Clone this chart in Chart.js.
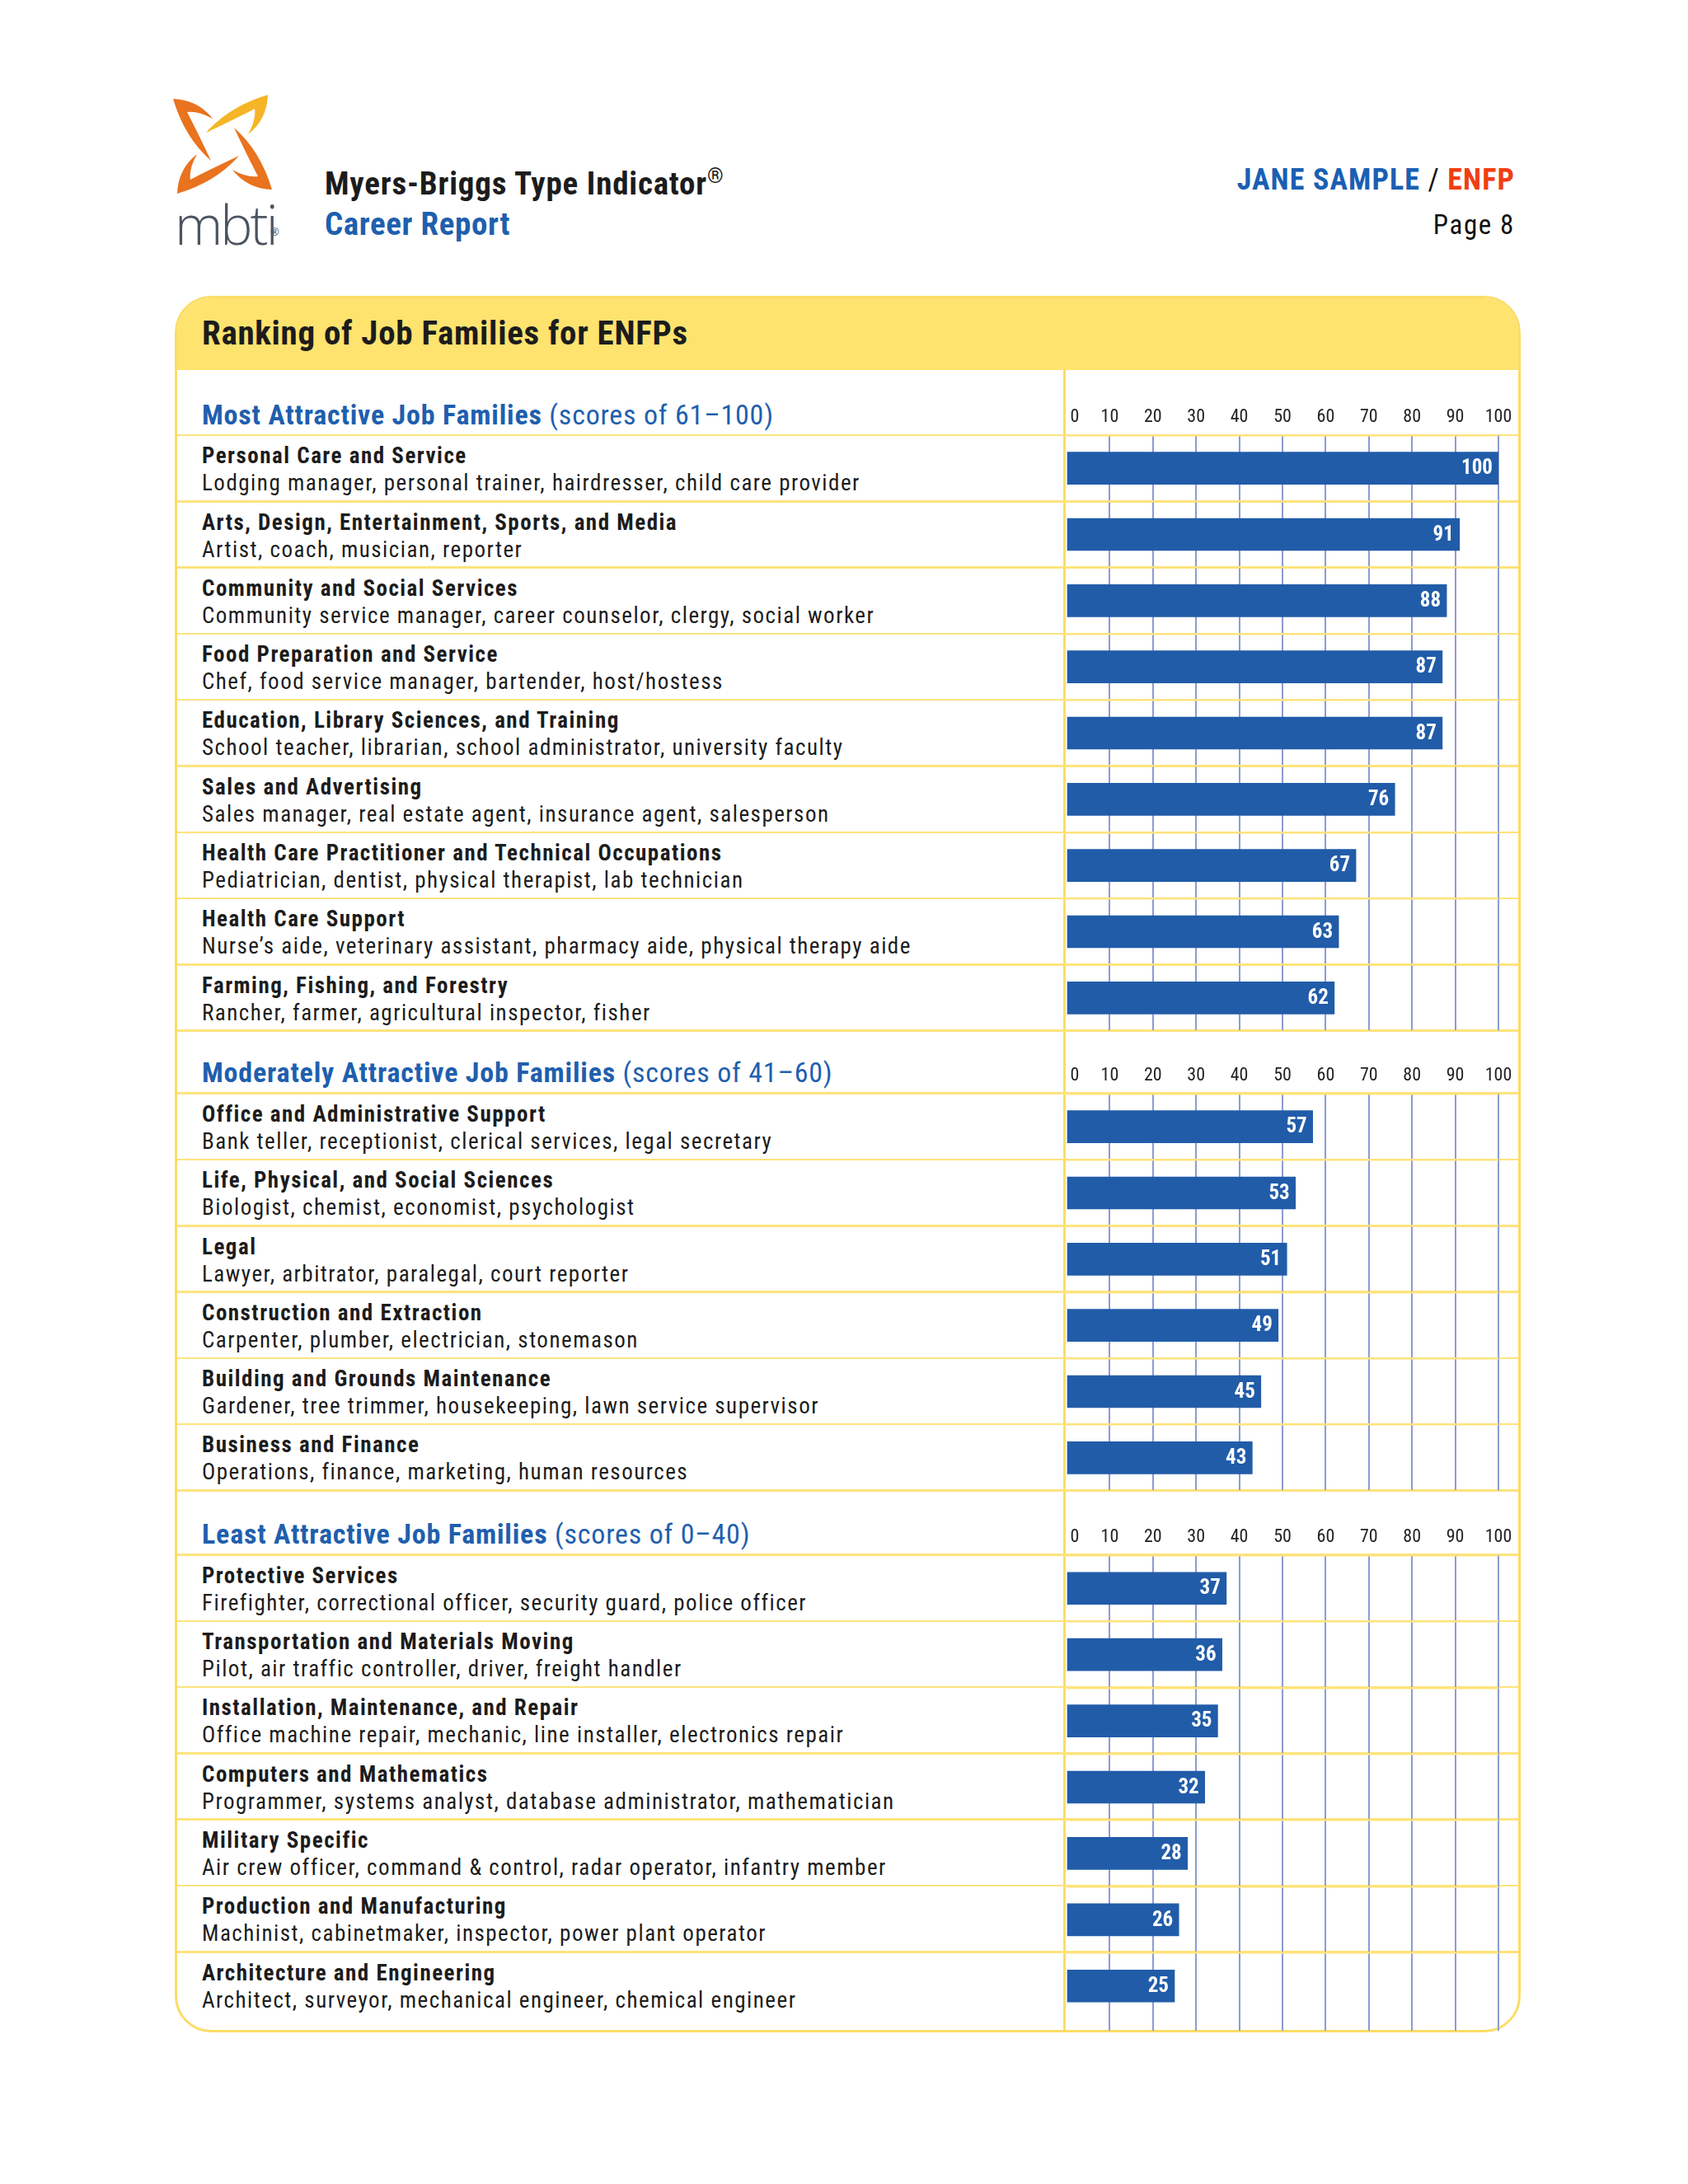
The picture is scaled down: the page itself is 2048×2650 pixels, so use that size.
<!DOCTYPE html>
<html><head><meta charset="utf-8">
<script src="https://cdn.jsdelivr.net/npm/chart.js@4/dist/chart.umd.min.js"></script>
<style>
html,body{margin:0;padding:0;background:#fff;}
#page{position:relative;width:2048px;height:2650px;overflow:hidden;background:#fff;}
.t{position:absolute;white-space:nowrap;line-height:1;}
canvas{position:absolute;}
</style></head>
<body><div id="page"></div>
<script>
// ---------------- DATA ----------------
const sectionTitles = ["Most Attractive Job Families", "Moderately Attractive Job Families", "Least Attractive Job Families"];
const sectionRanges = ["(scores of 61\u2013100)", "(scores of 41\u201360)", "(scores of 0\u201340)"];

const families1 = ["Personal Care and Service", "Arts, Design, Entertainment, Sports, and Media", "Community and Social Services", "Food Preparation and Service", "Education, Library Sciences, and Training", "Sales and Advertising", "Health Care Practitioner and Technical Occupations", "Health Care Support", "Farming, Fishing, and Forestry"];
const examples1 = ["Lodging manager, personal trainer, hairdresser, child care provider", "Artist, coach, musician, reporter", "Community service manager, career counselor, clergy, social worker", "Chef, food service manager, bartender, host/hostess", "School teacher, librarian, school administrator, university faculty", "Sales manager, real estate agent, insurance agent, salesperson", "Pediatrician, dentist, physical therapist, lab technician", "Nurse\u2019s aide, veterinary assistant, pharmacy aide, physical therapy aide", "Rancher, farmer, agricultural inspector, fisher"];
const scores1 = [100, 91, 88, 87, 87, 76, 67, 63, 62];

const families2 = ["Office and Administrative Support", "Life, Physical, and Social Sciences", "Legal", "Construction and Extraction", "Building and Grounds Maintenance", "Business and Finance"];
const examples2 = ["Bank teller, receptionist, clerical services, legal secretary", "Biologist, chemist, economist, psychologist", "Lawyer, arbitrator, paralegal, court reporter", "Carpenter, plumber, electrician, stonemason", "Gardener, tree trimmer, housekeeping, lawn service supervisor", "Operations, finance, marketing, human resources"];
const scores2 = [57, 53, 51, 49, 45, 43];

const families3 = ["Protective Services", "Transportation and Materials Moving", "Installation, Maintenance, and Repair", "Computers and Mathematics", "Military Specific", "Production and Manufacturing", "Architecture and Engineering"];
const examples3 = ["Firefighter, correctional officer, security guard, police officer", "Pilot, air traffic controller, driver, freight handler", "Office machine repair, mechanic, line installer, electronics repair", "Programmer, systems analyst, database administrator, mathematician", "Air crew officer, command & control, radar operator, infantry member", "Machinist, cabinetmaker, inspector, power plant operator", "Architect, surveyor, mechanical engineer, chemical engineer"];
const scores3 = [37, 36, 35, 32, 28, 26, 25];

const axisMin = 0, axisMax = 100, axisStep = 10;

// ---------------- STYLE / LAYOUT ----------------
const FONT = '"Roboto Condensed", "Liberation Sans Narrow", "DejaVu Sans Condensed", sans-serif';
const BLUE_TXT = '#1f5fae';
const BAR = '#215ca9';
const GRID = '#8d9bd2';
const YEL_LINE = '#fde37c';
const YEL_BORDER = '#fbdd66';
const YEL_BAND = '#fee36f';
const INK = '#1c1c1c';

const page = document.getElementById('page');
function el(tag, css, parent) { const e = document.createElement(tag); Object.assign(e.style, css); (parent || page).appendChild(e); return e; }
function txt(s, x, baseline, size, weight, color, align, ls) {
  const d = el('div', { font: `${weight} ${size}px ${FONT}`, color: color, top: (baseline - 0.86 * size) + 'px', letterSpacing: (ls || 0) + 'px' });
  d.className = 't'; d.textContent = s;
  if (align === 'right') d.style.right = (2048 - x) + 'px'; else d.style.left = x + 'px';
  return d;
}

// ----- logo -----
const svgNS = 'http://www.w3.org/2000/svg';
const svg = document.createElementNS(svgNS, 'svg');
svg.setAttribute('width', '136'); svg.setAttribute('height', '126');
svg.setAttribute('viewBox', '-68 -63 136 126');
Object.assign(svg.style, { position: 'absolute', left: '202px', top: '112px' });
const bladeColors = ['#e9731f', '#f5b526', '#e9731f', '#e9731f'];
for (let k = 0; k < 4; k++) {
  const p = document.createElementNS(svgNS, 'path');
  p.setAttribute('d', 'M -60 -55 Q -30 -54 -12 -31 Q -30 -41 -43 -39 Q -29 -12 -14 20 Q -46 -8 -60 -55 Z');
  p.setAttribute('fill', bladeColors[k]);
  p.setAttribute('transform', `rotate(${k * 90})`);
  svg.appendChild(p);
}
page.appendChild(svg);
const mb = el('div', { left: '212px', top: '226px', font: '300 66px "Open Sans", Lato, sans-serif', color: '#4b5560', letterSpacing: '-3px' });
mb.className = 't'; mb.textContent = 'mbti';
const mbr = el('div', { left: '328px', top: '272px', font: '400 13px "Open Sans", sans-serif', color: '#4b5560' });
mbr.className = 't'; mbr.textContent = '\u00AE';

// ----- header -----
const h1 = txt('Myers-Briggs Type Indicator', 394, 233, 39, 700, INK, 'left', 0.8);
const sup = document.createElement('span'); sup.textContent = '\u00AE';
Object.assign(sup.style, { fontSize: '25px', verticalAlign: '14px', fontWeight: '400' }); h1.appendChild(sup);
txt('Career Report', 394, 283, 39, 700, BLUE_TXT, 'left', 0.6);
const who = txt('', 1838, 228, 36, 700, '#1a5fb4', 'right', 1.1);
who.innerHTML = '<span>JANE SAMPLE</span><span style="color:#111;font-weight:400"> / </span><span style="color:#f03e12">ENFP</span>';
txt('Page 8', 1838, 281, 33, 400, '#111', 'right', 1.6);

// ----- panel -----
const PANEL = { left: 212, top: 359, right: 1845, bottom: 2466 };
const BAND_B = 449;
const panel = el('div', { position: 'absolute', left: PANEL.left + 'px', top: PANEL.top + 'px', width: (PANEL.right - PANEL.left) + 'px', height: (PANEL.bottom - PANEL.top) + 'px', boxSizing: 'border-box', border: '3px solid ' + YEL_BORDER, borderRadius: '44px', overflow: 'hidden', background: '#fff' });
el('div', { position: 'absolute', left: '0', top: '0', right: '0', height: (BAND_B - PANEL.top - 3) + 'px', background: YEL_BAND }, panel);
txt('Ranking of Job Families for ENFPs', 245, 415, 41, 700, INK, 'left', 0.7);

const DIV_X = 1290;
el('div', { position: 'absolute', left: DIV_X + 'px', top: BAND_B + 'px', width: '3px', height: (PANEL.bottom - 3 - BAND_B) + 'px', background: YEL_BORDER });

const HEAD_H = [79, 76, 78];
const ROW_H = 80.3;
const SEP_R = 1842;
const CHART_L = 1245, CHART_R = 1880;
const X0 = 1294, X100 = 1818;

const families = [families1, families2, families3];
const examples = [examples1, examples2, examples3];
const scores = [scores1, scores2, scores3];

const valueLabels = {
  id: 'valueLabels',
  afterDatasetsDraw(chart) {
    const { ctx } = chart; const meta = chart.getDatasetMeta(0); const data = chart.data.datasets[0].data;
    ctx.save(); ctx.fillStyle = '#fff'; ctx.font = `700 25px ${FONT}`; ctx.textAlign = 'right'; ctx.textBaseline = 'middle';
    meta.data.forEach((bar, i) => ctx.fillText(String(data[i]), bar.x - 7, bar.y + 1));
    ctx.restore();
  }
};
const gridExtend = {
  id: 'gridExtend',
  beforeDatasetsDraw(chart, args, opts) {
    if (!opts || !opts.extend) return;
    const sx = chart.scales.x; const { ctx, chartArea } = chart;
    ctx.save(); ctx.strokeStyle = GRID; ctx.lineWidth = 2;
    sx.ticks.forEach(t => {
      if (t.value === axisMin) return;
      const px = Math.round(sx.getPixelForValue(t.value));
      ctx.beginPath(); ctx.moveTo(px, chartArea.bottom); ctx.lineTo(px, chart.height); ctx.stroke();
    });
    ctx.restore();
  }
};

let secTop = BAND_B;
for (let s = 0; s < 3; s++) {
  const n = families[s].length;
  const rowsTop = secTop + HEAD_H[s];
  const last = s === 2;
  const extra = last ? (PANEL.bottom - 3) - (rowsTop + n * ROW_H) : 0;
  const hd = txt('', 245, rowsTop - 16, 34, 700, BLUE_TXT, 'left', 0.8);
  const a = document.createElement('span'); a.textContent = sectionTitles[s];
  const b = document.createElement('span'); b.textContent = ' ' + sectionRanges[s]; b.style.fontWeight = '400';
  hd.appendChild(a); hd.appendChild(b);
  for (let i = 0; i <= n; i++) {
    if (last && i === n) break;
    const y = rowsTop + i * ROW_H;
    el('div', { position: 'absolute', left: (PANEL.left + 3) + 'px', width: (SEP_R - PANEL.left - 3) + 'px', top: (y - 1.25) + 'px', height: '2.5px', background: YEL_LINE });
  }
  for (let i = 0; i < n; i++) {
    const r = rowsTop + i * ROW_H;
    txt(families[s][i], 245, r + 32.5, 27, 700, INK, 'left', 1.5);
    txt(examples[s][i], 245, r + 65.5, 27, 400, INK, 'left', 1.5);
  }
  const cv = el('canvas', { left: CHART_L + 'px', top: secTop + 'px' });
  const W = CHART_R - CHART_L, H = Math.round(HEAD_H[s] + n * ROW_H + extra);
  cv.width = W; cv.height = H; cv.style.width = W + 'px'; cv.style.height = H + 'px';
  const headH = HEAD_H[s];
  new Chart(cv, {
    type: 'bar',
    data: { labels: families[s], datasets: [{ data: scores[s], backgroundColor: BAR, borderWidth: 0, barThickness: 39 }] },
    options: {
      indexAxis: 'y', responsive: false, maintainAspectRatio: false, animation: false, devicePixelRatio: 1,
      layout: { padding: { left: X0 - CHART_L, right: CHART_R - X100, top: 0, bottom: Math.round(extra) } },
      plugins: { legend: { display: false }, tooltip: { enabled: false }, gridExtend: { extend: last } },
      scales: {
        x: {
          position: 'top', min: axisMin, max: axisMax,
          ticks: { stepSize: axisStep, autoSkip: false, maxRotation: 0, padding: 8, color: '#222', font: { family: FONT, size: 22, weight: '400' },
            callback: v => (v === axisMin ? '\u2002\u20020' : String(v)) },
          grid: { drawTicks: false, lineWidth: 2, color: c => (c.tick && c.tick.value === axisMin ? 'rgba(0,0,0,0)' : GRID) },
          border: { display: false },
          afterFit: sc => { sc.height = headH; }
        },
        y: {
          ticks: { display: false },
          grid: { offset: true, drawTicks: false, lineWidth: 2.5, color: c => (c.type === 'scale' && last ? 'rgba(0,0,0,0)' : YEL_LINE) },
          border: { display: false },
          afterFit: sc => { sc.width = 0; }
        }
      }
    },
    plugins: [valueLabels, gridExtend]
  });
  secTop = rowsTop + n * ROW_H;
}
</script>
</body></html>
